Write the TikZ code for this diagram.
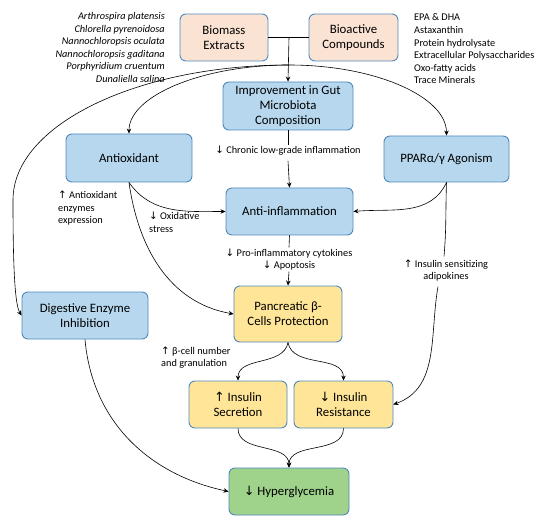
\documentclass[tikz,border=0pt]{standalone}
\usepackage{fontspec}
\setmainfont{Carlito}
\newfontfamily\arrfont{DejaVu Sans}
\usetikzlibrary{arrows.meta}
\newcommand{\arup}{{\arrfont ↑}}
\newcommand{\ardn}{{\arrfont ↓}}
\definecolor{edgeblue}{HTML}{5088BC}
\definecolor{fillblue}{HTML}{B6D7EE}
\definecolor{fillpeach}{HTML}{FBE3D3}
\definecolor{fillyellow}{HTML}{FFE598}
\definecolor{fillgreen}{HTML}{9FD28B}
\tikzset{
  box/.style={draw=edgeblue, rounded corners=6pt, line width=0.9pt, align=center,
    font=\fontsize{12.8}{15}\selectfont, inner sep=1pt},
  note/.style={font=\fontsize{10.3}{12.6}\selectfont, inner sep=1pt},
  conn/.style={-{Stealth[length=5pt,width=4.5pt]}, line width=0.6pt},
  plain/.style={line width=0.6pt}
}
\begin{document}
\begin{tikzpicture}[x=1pt,y=-1pt]
\useasboundingbox (0,0) rectangle (550,527);

% boxes
\node[box, fill=fillpeach, minimum width=88pt, minimum height=47pt] (bio) at (224,37.5) {Biomass\\Extracts};
\node[box, fill=fillpeach, minimum width=89pt, minimum height=47pt] (comp) at (353.5,37.5) {Bioactive\\Compounds};
\node[box, fill=fillblue, minimum width=130pt, minimum height=48pt] (gut) at (288,106) {Improvement in Gut\\Microbiota\\Composition};
\node[box, fill=fillblue, minimum width=126pt, minimum height=48pt] (antiox) at (129,158) {Antioxidant};
\node[box, fill=fillblue, minimum width=125pt, minimum height=46pt] (ppar) at (446.5,159) {PPARα/γ Agonism};
\node[box, fill=fillblue, minimum width=127pt, minimum height=47pt] (inflam) at (289.5,211.5) {Anti-inflammation};
\node[box, fill=fillyellow, minimum width=108pt, minimum height=56pt] (panc) at (288,314) {Pancreatic β-\\Cells Protection};
\node[box, fill=fillblue, minimum width=126pt, minimum height=47pt] (dig) at (85,315.5) {Digestive Enzyme\\Inhibition};
\node[box, fill=fillyellow, minimum width=98pt, minimum height=47pt] (secr) at (238,404.5) {\arup{} Insulin\\Secretion};
\node[box, fill=fillyellow, minimum width=99pt, minimum height=47pt] (resist) at (343.5,404.5) {\ardn{} Insulin\\Resistance};
\node[box, fill=fillgreen, minimum width=120pt, minimum height=47pt] (hyper) at (289,491.5) {\ardn{} Hyperglycemia};

% lists
\node[note, align=right, anchor=east, font=\fontsize{10.3}{12.6}\selectfont\itshape] (species) at (166,47.5)
  {Arthrospira platensis\\Chlorella pyrenoidosa\\Nannochloropsis oculata\\Nannochloropsis gaditana\\Porphyridium cruentum\\Dunaliella salina};
\node[note, align=left, anchor=west] (compounds) at (413,49)
  {EPA \& DHA\\Astaxanthin\\Protein hydrolysate\\Extracellular Polysaccharides\\Oxo-fatty acids\\Trace Minerals};

% labels
\node[note] (chronic) at (288,151) {\ardn{} Chronic low-grade inflammation};
\node[note, align=left, anchor=north west] (enzymes) at (57,190) {\arup{} Antioxidant\\enzymes\\expression};
\node[note, align=left, anchor=west] (oxid) at (148,222.5) {\ardn{} Oxidative\\stress};
\node[note, align=center] (cyto) at (289,259.5) {\ardn{} Pro-inflammatory cytokines\\\ardn{} Apoptosis};
\node[note, align=center] (adipo) at (446,270.5) {\arup{} Insulin sensitizing\\adipokines};
\node[note, align=left, anchor=west] (beta) at (160,357.5) {\arup{} β-cell number\\and granulation};

% top connectors
\coordinate (split) at (289,37.5);
\coordinate (fan) at (289,65);
\draw[plain] (bio.east) -- (comp.west);
\draw[conn] (split) -- (gut.north);
\draw[conn] (fan) .. controls (202,65) and (129,96) .. (antiox.north);
\draw[conn] (fan) .. controls (376,65) and (446.5,97) .. (ppar.north);
\draw[conn] (fan) .. controls (137,65) and (13,125) .. (13,200)
  .. controls (13,270) and (15,305) .. (dig.west);

% middle connectors
\draw[plain] (gut.south) -- (chronic.north);
\draw[conn] ([yshift=-4pt]chronic.south) -- (inflam.north);
\draw[conn] (antiox.south) to[out=-55, in=180] (inflam.west);
\draw[conn] (antiox.south) to[out=-82, in=170] (panc.west);
\draw[conn] (ppar.south) to[out=-115, in=5] (inflam.east);
\draw[plain] (ppar.south) to[out=-92, in=85] ([xshift=-2pt,yshift=2pt]adipo.north);
\draw[conn] ([xshift=-8pt,yshift=-4pt]adipo.south) to[out=-100, in=20] (resist.east);
\draw[plain] (inflam.south) -- (cyto.north);
\draw[conn] (cyto.south) -- (panc.north);

% bottom connectors
\draw[conn] (panc.south) to[out=-100, in=90] (secr.north);
\draw[conn] (panc.south) to[out=-80, in=90] (resist.north);
\draw[conn] (secr.south) to[out=-90, in=90] (hyper.north);
\draw[conn] (resist.south) to[out=-90, in=90] (hyper.north);
\draw[conn] (dig.south) to[out=-85, in=168] (hyper.west);
\end{tikzpicture}
\end{document}
